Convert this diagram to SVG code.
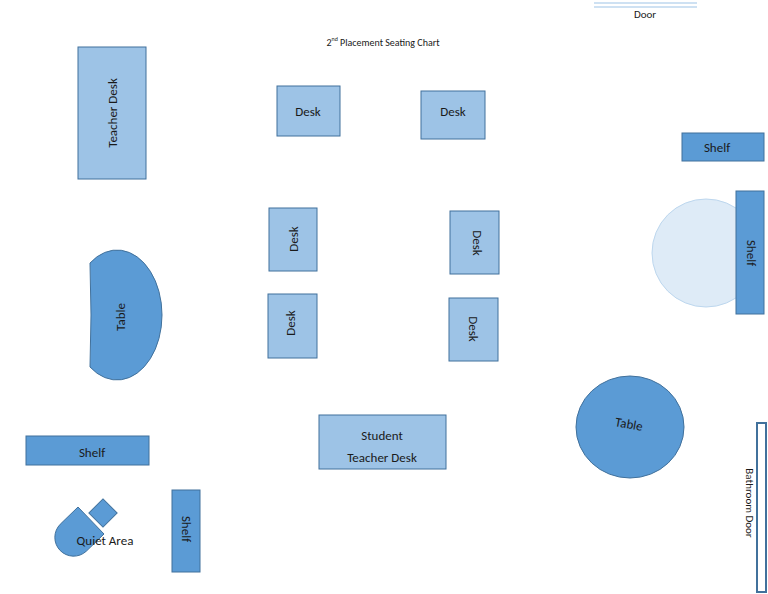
<svg xmlns="http://www.w3.org/2000/svg" width="768" height="594" viewBox="0 0 768 594">
<style>
text{font-family:Calibri,Carlito,"Liberation Sans",sans-serif;font-size:13px;fill:#1a1a1a;text-anchor:middle;dominant-baseline:central}
.l{fill:#9DC3E6;stroke:#41719C;stroke-width:1}
.d{fill:#5B9BD5;stroke:#41719C;stroke-width:1}
</style>
<rect width="768" height="594" fill="#fff"/>
<text x="383" y="42" style="font-size:10px">2<tspan style="font-size:6px" dy="-3">nd</tspan><tspan dy="3"> Placement Seating Chart</tspan></text>
<g id="door"><line x1="594" y1="3" x2="697" y2="3" stroke="#9DC3E6"/><line x1="594" y1="7" x2="697" y2="7" stroke="#9DC3E6"/><text x="645" y="14" style="font-size:11px">Door</text></g>
<g id="teacher-desk"><rect class="l" x="78" y="47" width="68" height="132"/><text transform="translate(112,113) rotate(-90)">Teacher Desk</text></g>
<g id="desk1"><rect class="l" x="277" y="86" width="63" height="50"/><text x="308" y="111">Desk</text></g>
<g id="desk2"><rect class="l" x="421" y="91" width="64" height="48"/><text x="453" y="111">Desk</text></g>
<g id="desk3"><rect class="l" x="269" y="208" width="48" height="63"/><text transform="translate(293,239) rotate(-90)">Desk</text></g>
<g id="desk4"><rect class="l" x="450" y="211" width="49" height="63"/><text transform="translate(477,243) rotate(90)">Desk</text></g>
<g id="desk5"><rect class="l" x="268" y="294" width="49" height="64"/><text transform="translate(290,323) rotate(-90)">Desk</text></g>
<g id="desk6"><rect class="l" x="449" y="298" width="49" height="63"/><text transform="translate(473,329) rotate(90)">Desk</text></g>
<g id="table-left"><path class="d" d="M90,263 A45,65 0 1 1 90,367 Q92,315 90,263 Z"/><text transform="translate(120,317) rotate(-90)">Table</text></g>
<g id="shelf-top-right"><rect class="d" x="682" y="133" width="82" height="28"/><text x="717" y="147">Shelf</text></g>
<g id="round-table-light"><circle cx="706" cy="253" r="54" fill="#DEEBF7" stroke="#BDD7EE"/></g>
<g id="shelf-right"><rect class="d" x="736" y="191" width="28" height="123"/><text transform="translate(751,253) rotate(90)">Shelf</text></g>
<g id="table-right"><ellipse class="d" cx="630" cy="427" rx="54" ry="51"/><text transform="translate(629,424) rotate(10)">Table</text></g>
<g id="student-teacher-desk"><rect class="l" x="319" y="415" width="127" height="54"/><text x="382" y="435">Student</text><text x="382" y="457">Teacher Desk</text></g>
<g id="shelf-left"><rect class="d" x="26" y="436" width="123" height="29"/><text x="92" y="452">Shelf</text></g>
<g id="shelf-bottom"><rect class="d" x="172" y="490" width="28" height="82"/><text transform="translate(186,529) rotate(90)">Shelf</text></g>
<g id="quiet-area"><path class="d" d="M78,507 L104,534 L86.2,551.3 A18.75,18.75 0 0 1 60.2,524.3 Z"/><rect class="d" x="-10" y="-10" width="20" height="20" transform="translate(103,513) rotate(45)"/><text x="105" y="540">Quiet Area</text></g>
<g id="bathroom-door"><rect x="757" y="423" width="9" height="169" fill="#fff" stroke="#41719C" stroke-width="2"/><text transform="translate(749,503) rotate(90)" style="font-size:11px">Bathroom Door</text></g>
<g id="connectors"/>
</svg>
